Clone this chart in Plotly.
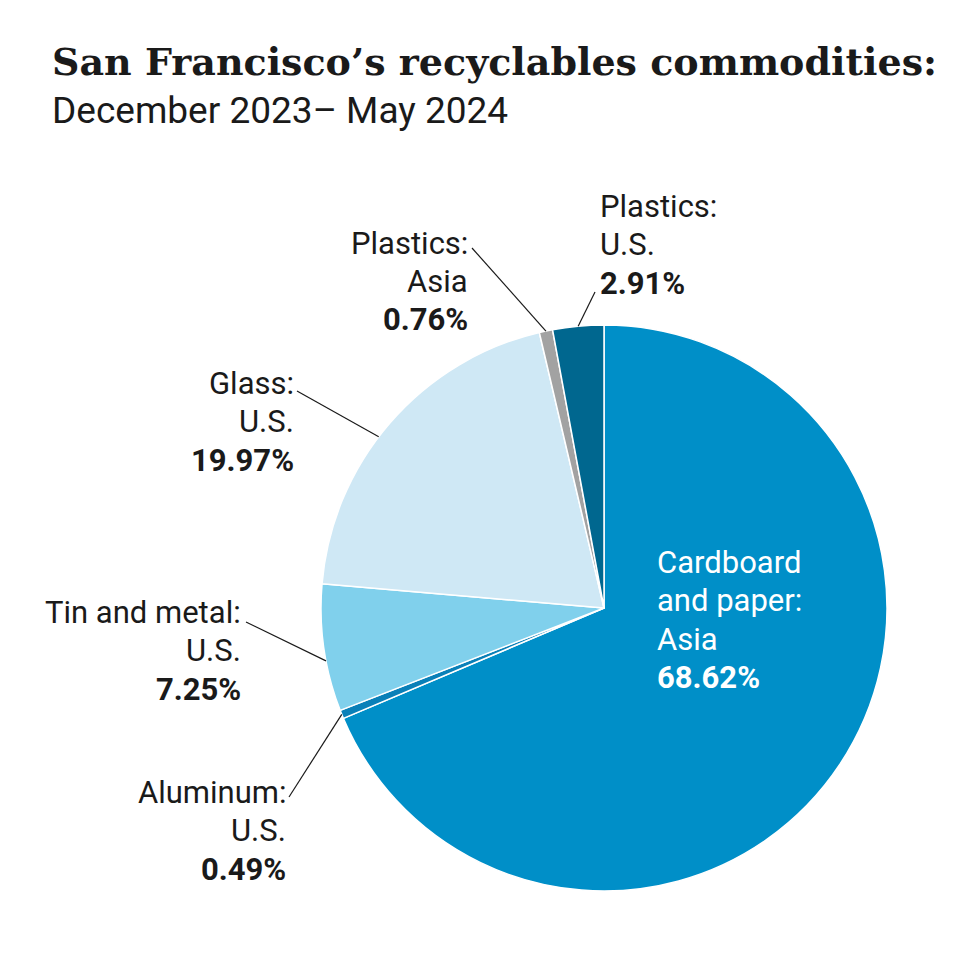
import math
import plotly.graph_objects as go

# ---- data ----
categories = ["Cardboard and paper: Asia", "Aluminum: U.S.", "Tin and metal: U.S.",
              "Glass: U.S.", "Plastics: Asia", "Plastics: U.S."]
label_lines = [["Cardboard", "and paper:", "Asia"], ["Aluminum:", "U.S."], ["Tin and metal:", "U.S."],
               ["Glass:", "U.S."], ["Plastics:", "Asia"], ["Plastics:", "U.S."]]
values = [68.62, 0.49, 7.25, 19.97, 0.76, 2.91]
pct_labels = ["68.62%", "0.49%", "7.25%", "19.97%", "0.76%", "2.91%"]
colors = ["#008fc8", "#0a80b8", "#80d0ec", "#cfe8f5", "#a2a2a2", "#00678f"]

W = H = 960
CX, CY, R = 604, 608, 283  # pie center / radius in px

def px(x):
    return x / W

def py(y):
    return 1 - y / H

# label layout: (anchor x, first line y, xanchor, color, line end px, frac within slice)
label_layout = [
    (655, 562, "left", "white", None, 0.5),
    (288, 792, "right", "#1a1a1a", (289, 797), 0.5),
    (243, 612, "right", "#1a1a1a", (246, 622), 0.4),
    (296, 383, "right", "#1a1a1a", (297, 391), 0.45),
    (470, 243, "right", "#1a1a1a", (472, 248), 0.5),
    (598, 206, "left", "#1a1a1a", (595, 292), 0.5),
]
LINE_GAP = 38.5
FS = 31

fig = go.Figure(go.Pie(
    labels=categories, values=values, sort=False, direction="clockwise", rotation=0,
    marker=dict(colors=colors, line=dict(color="white", width=1.5)),
    textinfo="none", hoverinfo="label+percent", showlegend=False,
    domain=dict(x=[px(CX - R), px(CX + R)], y=[py(CY + R), py(CY - R)]),
))

annotations = []
shapes = []
total = sum(values)
cum = 0.0
for i, v in enumerate(values):
    ax, ay, xa, col, end, frac = label_layout[i]
    lines = label_lines[i] + [pct_labels[i]]
    for j, t in enumerate(lines):
        txt = f"<b>{t}</b>" if j == len(lines) - 1 else t
        annotations.append(dict(
            x=px(ax), y=py(ay + j * LINE_GAP), xref="paper", yref="paper",
            text=txt, showarrow=False, xanchor=xa, yanchor="middle",
            font=dict(family="Roboto", size=FS, color=col), align=xa,
        ))
    if end is not None:
        theta = 2 * math.pi * (cum + frac * v) / total
        ex = CX + R * math.sin(theta)
        ey = CY - R * math.cos(theta)
        shapes.append(dict(type="line", xref="paper", yref="paper",
                           x0=px(ex), y0=py(ey), x1=px(end[0]), y1=py(end[1]),
                           line=dict(color="#1a1a1a", width=1.2)))
    cum += v

annotations.append(dict(
    x=px(50), y=py(62), xref="paper", yref="paper", xanchor="left", yanchor="middle",
    text="<b>San Francisco’s recyclables commodities:</b>", showarrow=False,
    font=dict(family="DejaVu Serif", size=38, color="#1a1a1a"),
))
annotations.append(dict(
    x=px(50), y=py(111), xref="paper", yref="paper", xanchor="left", yanchor="middle",
    text="December 2023– May 2024", showarrow=False,
    font=dict(family="Roboto", size=37, color="#1a1a1a"),
))

fig.update_layout(
    width=W, height=H, margin=dict(l=0, r=0, t=0, b=0),
    paper_bgcolor="white", plot_bgcolor="white",
    annotations=annotations, shapes=shapes,
)

fig.write_html("out.html")
